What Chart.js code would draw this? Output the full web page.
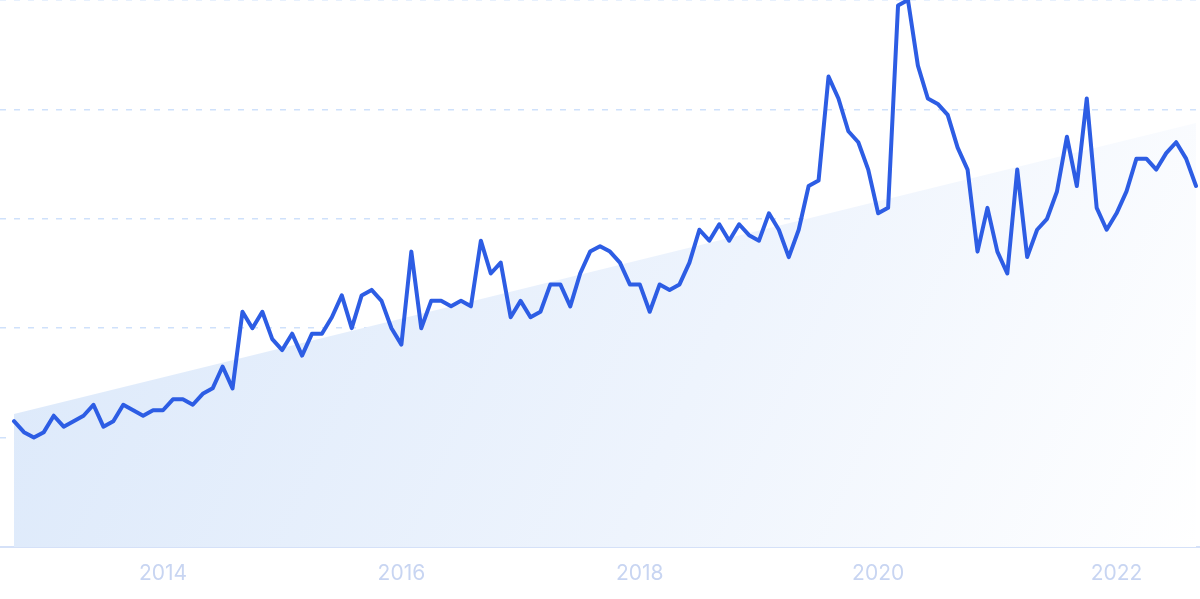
<!DOCTYPE html>
<html>
<head>
<meta charset="utf-8">
<script src="https://cdn.jsdelivr.net/npm/chart.js@4/dist/chart.umd.min.js"></script>
<style>
  html, body { margin: 0; padding: 0; background: #ffffff; }
  #wrap { width: 1200px; height: 599px; position: relative; }
</style>
</head>
<body>
<div id="wrap"><canvas id="trendChart"></canvas></div>
<script>
// monthly interest, Oct 2012 .. Sep 2022 (index 0 = Oct 2012)
const firstYear = 2012;
const firstMonth = 10;
const interest = [
  23, 21, 20, 21, 24, 22, 23, 24, 26, 22, 23, 26, 25, 24, 25, 25, 27, 27, 26, 28, 29, 33, 29, 43,
  40, 43, 38, 36, 39, 35, 39, 39, 42, 46, 40, 46, 47, 45, 40, 37, 54, 40,
  45, 45, 44, 45, 44, 56, 50, 52, 42, 45, 42, 43, 48, 48, 44, 50, 54, 55, 54,
  52, 48, 48, 43, 48, 47, 48, 52, 58, 56, 59, 56, 59, 57, 56, 61, 58, 53, 58, 66, 67,
  86, 82, 76, 74, 69, 61, 62, 99, 100, 88, 82, 81, 79, 73, 69, 54, 62, 54,
  50, 69, 53, 58, 60, 65, 75, 66, 82, 62, 58, 61, 65, 71, 71, 69, 72, 74, 71, 66
];
// trend line start / end values
const trendValues = [24.3, 77.5];
const tickLabels = ['2014', '2016', '2018', '2020', '2022'];
const yTicks = [0, 20, 40, 60, 80, 100];

const lastIndex = interest.length - 1;
const lineData = interest.map((v, i) => ({ x: i, y: v }));
const trendData = [{ x: 0, y: trendValues[0] }, { x: lastIndex, y: trendValues[1] }];

function yearIndex(label) {
  return (parseInt(label) - firstYear) * 12 + (1 - firstMonth);
}

const ctx = document.getElementById('trendChart').getContext('2d');
new Chart(ctx, {
  type: 'line',
  data: {
    datasets: [
      {
        label: 'Interest',
        data: lineData,
        borderColor: '#2d5de4',
        borderWidth: 4,
        borderJoinStyle: 'round',
        borderCapStyle: 'round',
        pointRadius: 0,
        tension: 0,
        fill: false,
        order: 1
      },
      {
        label: 'Trend',
        data: trendData,
        borderWidth: 0,
        borderColor: 'rgba(0,0,0,0)',
        pointRadius: 0,
        fill: 'origin',
        order: 2,
        backgroundColor: (c) => {
          const area = c.chart.chartArea;
          if (!area) return 'rgba(221,233,250,1)';
          const g = c.chart.ctx.createLinearGradient(area.left, area.top, area.right, area.bottom);
          g.addColorStop(0, '#d9e7fa');
          g.addColorStop(0.6, '#eef4fd');
          g.addColorStop(1, '#ffffff');
          return g;
        }
      }
    ]
  },
  options: {
    responsive: true,
    maintainAspectRatio: false,
    animation: false,
    layout: { padding: 0 },
    scales: {
      x: {
        type: 'linear',
        min: -1.41,
        max: lastIndex + 0.4,
        afterBuildTicks: (s) => {
          s.ticks = tickLabels.map(l => ({ value: yearIndex(l) }));
        },
        afterFit: (s) => { s.height = 52; },
        ticks: {
          autoSkip: false,
          maxRotation: 0,
          padding: 14,
          color: '#c8d5f2',
          font: { family: 'Inter', size: 21 },
          callback: (v) => tickLabels[tickLabels.findIndex(l => yearIndex(l) === v)]
        },
        grid: { display: false, drawTicks: false },
        border: { display: true, color: '#d5e1f8', width: 2 }
      },
      y: {
        min: 0,
        max: 100,
        afterBuildTicks: (s) => {
          s.ticks = yTicks.map(v => ({ value: v }));
        },
        afterFit: (s) => { s.width = 0; },
        ticks: { display: false },
        grid: {
          drawTicks: false,
          color: (c) => c.tick && c.tick.value === 0 ? 'rgba(0,0,0,0)' : '#cfe1fb',
          lineWidth: 1.5
        },
        border: { display: false, dash: [6, 8] }
      }
    },
    plugins: {
      legend: { display: false },
      tooltip: { enabled: false }
    }
  }
});
</script>
</body>
</html>
